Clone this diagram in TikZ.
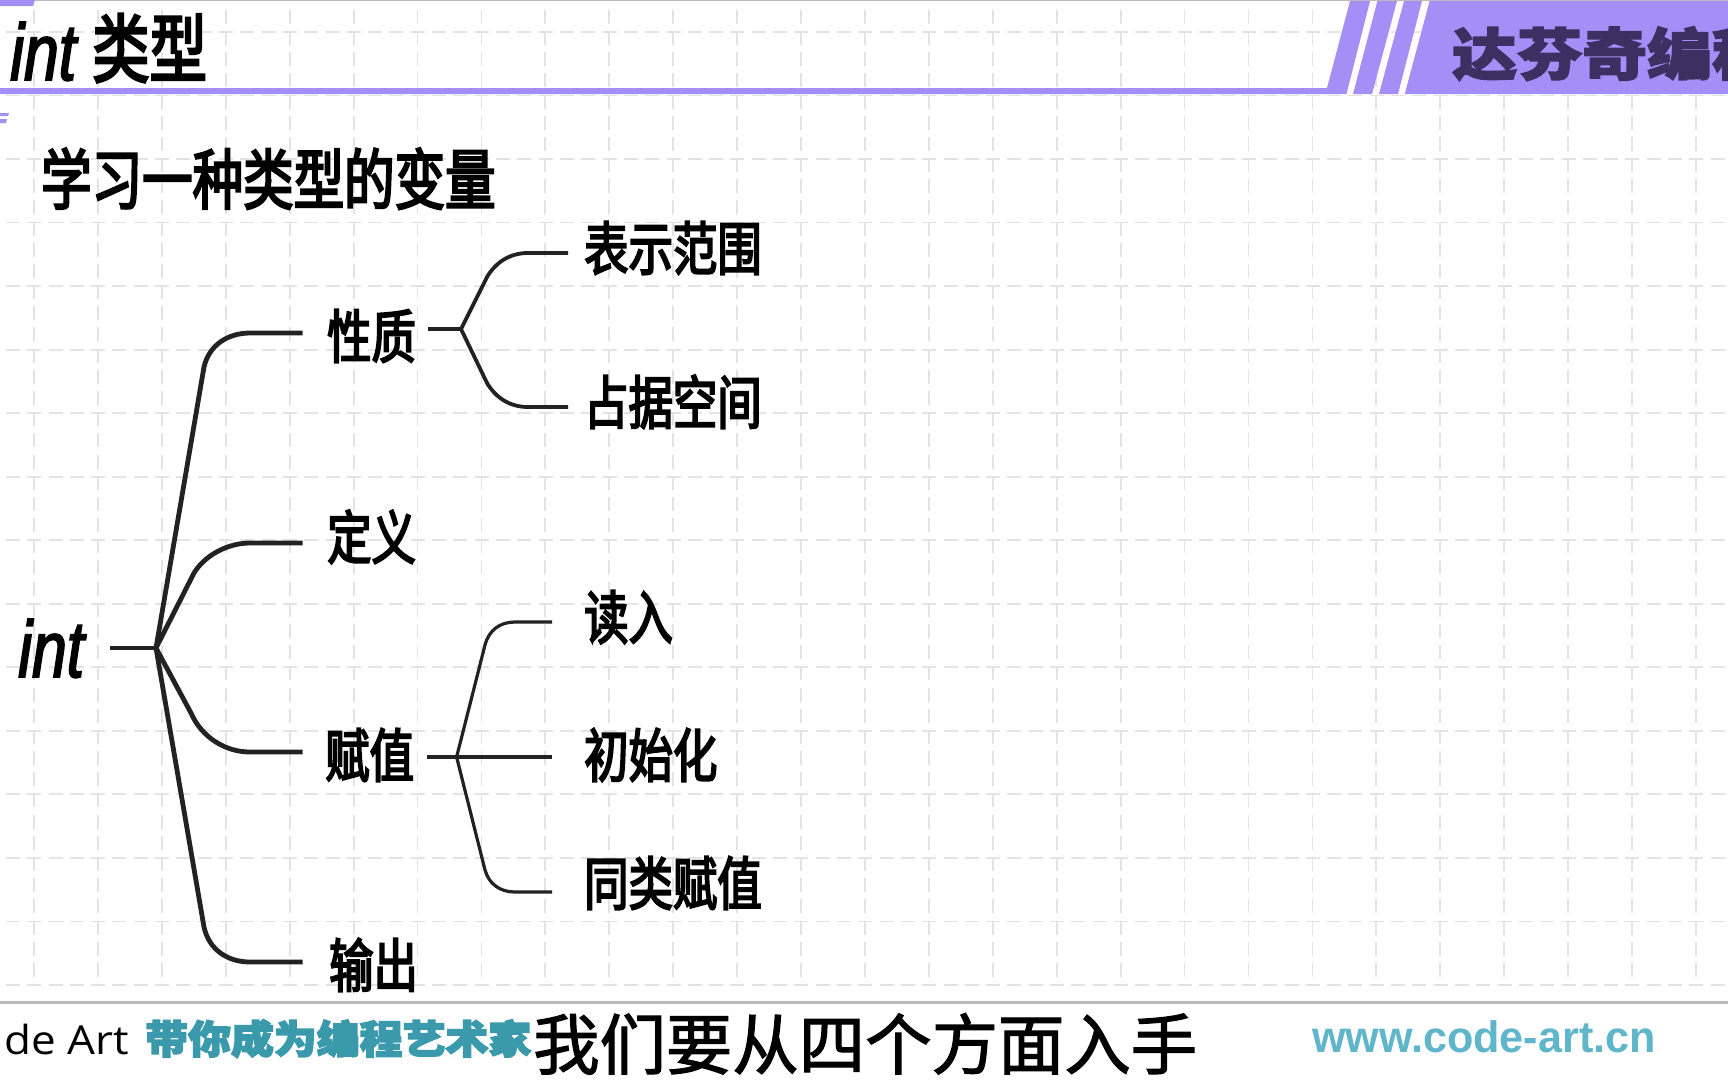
\documentclass[tikz,border=0pt]{standalone}
\usepackage{fontspec}
\newfontfamily\labfont[FakeStretch=0.765,FakeBold=3.2]{Noto Sans CJK SC}
\newfontfamily\subfont[FakeStretch=1.006,FakeBold=1.8]{Noto Sans CJK SC}
\newfontfamily\heavyfont[FakeStretch=1.16,FakeBold=3]{Noto Sans CJK SC}
\newfontfamily\sloganfont[FakeStretch=1.1,FakeBold=4]{Noto Sans CJK SC}
\newfontfamily\intfont[FakeStretch=0.78,FakeBold=2.2]{Liberation Sans}
\newfontfamily\urlfont[FakeStretch=0.98]{Liberation Sans}
\newfontfamily\artfont[FakeStretch=1.1]{Open Sans}
\definecolor{hdrpurple}{HTML}{A48FF6}
\definecolor{hdrdark}{HTML}{3B3062}
\definecolor{gridgray}{HTML}{E3E3E3}
\definecolor{rulegray}{HTML}{BBBBBB}
\definecolor{slogan}{HTML}{3A9AAC}
\definecolor{urlblue}{HTML}{5FB5CA}
\definecolor{inkblack}{HTML}{222222}
\tikzset{
  cjklabel/.style={font=\labfont\fontsize{58}{58}\selectfont,text=black,inner sep=0pt,anchor=west,text height=51pt,text depth=7pt},
  titlelabel/.style={font=\labfont\fontsize{66}{66}\selectfont,text=black,inner sep=0pt,anchor=west,text height=58pt,text depth=8pt},
  bigcjk/.style={font=\labfont\fontsize{75}{75}\selectfont,text=black,inner sep=0pt,anchor=west,text height=66pt,text depth=9pt},
  intlabel/.style={font=\intfont\fontsize{80}{80}\selectfont\itshape,text=black,inner sep=0pt,anchor=base west},
  gridh/.style={gridgray,line width=1.8pt,dash pattern=on 14pt off 7.31pt,dash phase=15.4pt},
  gridv/.style={gridgray,line width=1.8pt,dash pattern=on 14pt off 7.18pt,dash phase=17.4pt},
  linkthick/.style={inkblack,line width=4.8pt,line cap=butt},
  linkmid/.style={inkblack,line width=3.8pt,line cap=butt},
  linkthin/.style={inkblack,line width=3.2pt,line cap=butt},
  hdrband/.style={fill=hdrpurple,draw=none}
}
\begin{document}
\begin{tikzpicture}[x=1pt,y=-1pt]
\useasboundingbox (0,0) rectangle (1728,1080);
\clip (0,0) rectangle (1728,1080);
\fill[white] (0,0) rectangle (1728,1080);
% grid
\foreach \k in {0,...,15}{
  \draw[gridh] (0,{32+63.53*\k}) -- (1728,{32+63.53*\k});
}
\foreach \k in {0,...,26}{
  \draw[gridv] ({34+63.92*\k},6) -- ({34+63.92*\k},985);
}
% header
\draw[rulegray,line width=1.5pt] (0,0.5) -- (1728,0.5);
\fill[hdrpurple] (0,0) -- (35,0) -- (33,6) -- (0,6) -- cycle;
\fill[hdrpurple] (0,113) -- (9,113) -- (8,116) -- (0,116) -- cycle;
\fill[hdrpurple] (0,119) -- (7,119) -- (6,123) -- (0,123) -- cycle;
\fill[hdrband] (0,88) -- (1327,88) -- (1350,1) -- (1370,1) -- (1346.5,94) -- (0,94) -- cycle;
\fill[hdrband] (1377.4,1) -- (1397,1) -- (1372,94) -- (1353,94) -- cycle;
\fill[hdrband] (1404,1) -- (1422,1) -- (1398,94) -- (1379,94) -- cycle;
\fill[hdrband] (1429.6,1) -- (1728,1) -- (1728,94) -- (1404.7,94) -- cycle;
\node[font=\heavyfont\fontsize{56}{56}\selectfont\bfseries,text=hdrdark,inner sep=0pt,anchor=west,text height=49pt,text depth=7pt] (brand) at (1452,54) {达芬奇编程};
% titles
\node[intlabel] (titleint) at (10,80) {int};
\node[bigcjk] (titlecjk) at (92,48) {类型};
\node[titlelabel] (subject) at (41,179) {学习一种类型的变量};
% tree nodes
\node[intlabel] (root) at (18,677) {int};
\node[cjklabel] (xz) at (327,336) {性质};
\node[cjklabel] (dy) at (327,537) {定义};
\node[cjklabel] (fz) at (325,755) {赋值};
\node[cjklabel] (sc) at (329,965) {输出};
\node[cjklabel] (bs) at (584,248) {表示范围};
\node[cjklabel] (zj) at (584,402) {占据空间};
\node[cjklabel] (dr) at (584,617) {读入};
\node[cjklabel] (csh) at (584,755) {初始化};
\node[cjklabel] (tl) at (584,883) {同类赋值};
% junctions
\coordinate (j0) at (156,648);
\coordinate (j1) at (461,329);
\coordinate (j2) at (456.6,757);
% connectors
\draw[linkthick,shorten <=26pt] (root.east |- j0) -- (j0);
\draw[linkthick,shorten >=24.5pt] (j0) -- (204,367) .. controls (209,345) and (228,333) .. (250,333) -- ([yshift=3pt]xz.west);
\draw[linkthick,shorten >=24.5pt] (j0) -- (194,573) .. controls (205,555) and (228,543) .. (250,543) -- ([yshift=-6pt]dy.west);
\draw[linkthick,shorten >=22.5pt] (j0) -- (191,713) .. controls (202,738) and (226,752) .. (250,752) -- ([yshift=3pt]fz.west);
\draw[linkthick,shorten >=26.5pt] (j0) -- (204,927) .. controls (209,950) and (228,962) .. (250,962) -- ([yshift=3pt]sc.west);
\draw[linkmid,shorten <=12pt] (xz.east |- j1) -- (j1);
\draw[linkmid,shorten >=16pt] (j1) -- (487,277) .. controls (496,262) and (510,253) .. (528,253) -- ([yshift=-5pt]bs.west);
\draw[linkmid,shorten >=16pt] (j1) -- (487,383) .. controls (496,398) and (510,407) .. (528,407) -- ([yshift=-5pt]zj.west);
\draw[linkthin,shorten <=13pt] (fz.east |- j2) -- (j2);
\draw[linkthin,shorten >=32pt] (j2) -- (485,645) .. controls (489,630) and (500,622) .. (515,622) -- ([yshift=-5pt]dr.west);
\draw[linkthin,shorten >=32pt] (j2) -- ([yshift=-2pt]csh.west);
\draw[linkthin,shorten >=32pt] (j2) -- (485,870) .. controls (489,884) and (500,892) .. (515,892) -- ([yshift=-9pt]tl.west);
% footer
\draw[rulegray,line width=3pt] (0,1002) -- (1728,1002);
\node[font=\artfont\fontsize{40}{40}\selectfont,text=black,inner sep=0pt,anchor=base west] (art) at (4,1054) {de Art};
\node[font=\sloganfont\fontsize{39}{39}\selectfont\bfseries,text=slogan,inner sep=0pt,anchor=west,text height=34pt,text depth=5pt] (sloganline) at (145,1039) {带你成为编程艺术家};
\node[font=\subfont\fontsize{66}{66}\selectfont,text=black,inner sep=0pt,anchor=west,text height=58pt,text depth=8pt] (caption) at (533,1044) {我们要从四个方面入手};
\node[font=\urlfont\fontsize{44}{44}\selectfont\bfseries,text=urlblue,inner sep=0pt,anchor=base west] (url) at (1312,1052) {www.code-art.cn};
\end{tikzpicture}
\end{document}
